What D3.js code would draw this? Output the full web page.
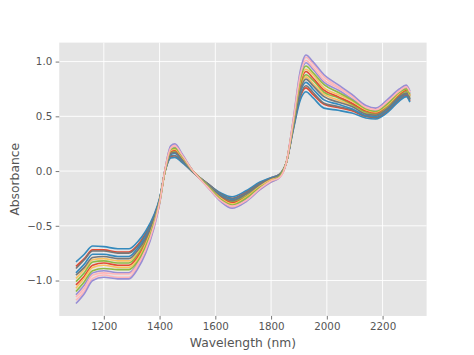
<!DOCTYPE html>
<html><head><meta charset="utf-8">
<script src="https://cdn.jsdelivr.net/npm/d3@7"></script>
<style>body{margin:0;background:#fff}svg{display:block}</style></head>
<body>
<script>
// Wavelength knots (nm)
const wavelengths=[1100,1130,1160,1200,1250,1290,1320,1350,1380,1400,1420,1440,1455,1480,1520,1570,1620,1660,1710,1760,1800,1830,1855,1880,1905,1925,1950,1990,2040,2090,2140,2175,2220,2260,2285,2298];
// Absorbance spectra
const s01=[-0.83,-0.76,-0.685,-0.69,-0.71,-0.71,-0.65,-0.55,-0.40,-0.25,0.00,0.12,0.125,0.08,-0.01,-0.11,-0.20,-0.235,-0.18,-0.10,-0.06,-0.03,0.08,0.38,0.65,0.725,0.67,0.575,0.555,0.53,0.485,0.475,0.54,0.64,0.68,0.63];
const s02=[-0.87,-0.80,-0.72,-0.72,-0.74,-0.74,-0.68,-0.57,-0.41,-0.26,0.00,0.13,0.14,0.09,-0.01,-0.11,-0.21,-0.25,-0.19,-0.11,-0.06,-0.03,0.08,0.39,0.68,0.76,0.70,0.61,0.58,0.55,0.50,0.485,0.55,0.65,0.69,0.64];
const s03=[-0.89,-0.81,-0.73,-0.73,-0.75,-0.75,-0.69,-0.58,-0.42,-0.26,0.00,0.14,0.14,0.09,-0.01,-0.11,-0.21,-0.25,-0.20,-0.11,-0.07,-0.03,0.08,0.40,0.69,0.78,0.72,0.62,0.59,0.56,0.50,0.49,0.56,0.66,0.70,0.65];
const s04=[-0.93,-0.85,-0.76,-0.76,-0.78,-0.78,-0.71,-0.60,-0.43,-0.26,0.01,0.15,0.16,0.10,-0.01,-0.12,-0.22,-0.26,-0.21,-0.12,-0.07,-0.04,0.08,0.41,0.72,0.81,0.75,0.65,0.61,0.57,0.51,0.50,0.57,0.67,0.71,0.66];
const s05=[-0.95,-0.88,-0.79,-0.78,-0.80,-0.80,-0.73,-0.62,-0.44,-0.27,0.01,0.16,0.17,0.11,-0.01,-0.12,-0.23,-0.27,-0.21,-0.12,-0.07,-0.04,0.08,0.41,0.74,0.84,0.78,0.68,0.63,0.59,0.52,0.51,0.58,0.68,0.71,0.66];
const s06=[-0.98,-0.90,-0.81,-0.80,-0.82,-0.82,-0.75,-0.63,-0.45,-0.27,0.01,0.16,0.18,0.11,-0.01,-0.12,-0.23,-0.28,-0.22,-0.13,-0.08,-0.04,0.08,0.42,0.76,0.86,0.80,0.70,0.65,0.60,0.53,0.515,0.59,0.68,0.72,0.67];
const s07=[-1.01,-0.93,-0.83,-0.82,-0.84,-0.84,-0.77,-0.64,-0.46,-0.27,0.01,0.17,0.18,0.12,-0.01,-0.12,-0.24,-0.28,-0.23,-0.13,-0.08,-0.04,0.08,0.43,0.78,0.88,0.83,0.72,0.67,0.61,0.54,0.52,0.60,0.69,0.73,0.68];
const s08=[-1.04,-0.96,-0.86,-0.84,-0.86,-0.86,-0.79,-0.66,-0.47,-0.28,0.01,0.18,0.19,0.12,0.00,-0.13,-0.24,-0.29,-0.24,-0.14,-0.08,-0.05,0.08,0.44,0.80,0.91,0.85,0.74,0.68,0.62,0.55,0.53,0.61,0.70,0.74,0.69];
const s09=[-1.07,-0.98,-0.88,-0.86,-0.88,-0.88,-0.81,-0.67,-0.47,-0.28,0.01,0.19,0.20,0.13,0.00,-0.13,-0.25,-0.30,-0.24,-0.14,-0.08,-0.05,0.08,0.44,0.82,0.93,0.88,0.76,0.70,0.64,0.56,0.54,0.61,0.71,0.75,0.69];
const s10=[-1.10,-1.01,-0.91,-0.89,-0.90,-0.90,-0.83,-0.69,-0.48,-0.29,0.01,0.20,0.21,0.14,0.00,-0.13,-0.26,-0.31,-0.25,-0.15,-0.09,-0.05,0.08,0.45,0.84,0.96,0.90,0.79,0.72,0.65,0.57,0.545,0.62,0.72,0.75,0.70];
const s11=[-1.13,-1.04,-0.93,-0.91,-0.93,-0.93,-0.85,-0.71,-0.49,-0.29,0.02,0.21,0.22,0.14,0.00,-0.13,-0.26,-0.32,-0.26,-0.16,-0.09,-0.05,0.08,0.46,0.86,0.99,0.93,0.81,0.74,0.66,0.58,0.55,0.63,0.73,0.76,0.71];
const s12=[-1.15,-1.07,-0.95,-0.93,-0.94,-0.94,-0.86,-0.72,-0.50,-0.29,0.02,0.21,0.23,0.15,0.00,-0.14,-0.27,-0.32,-0.27,-0.16,-0.09,-0.06,0.08,0.47,0.88,1.01,0.95,0.83,0.76,0.68,0.58,0.56,0.64,0.73,0.77,0.72];
const s13=[-1.18,-1.10,-0.98,-0.95,-0.97,-0.97,-0.88,-0.74,-0.51,-0.30,0.02,0.22,0.24,0.15,0.00,-0.14,-0.27,-0.33,-0.27,-0.17,-0.10,-0.06,0.08,0.47,0.90,1.04,0.98,0.86,0.77,0.69,0.59,0.57,0.65,0.74,0.78,0.72];
const s14=[-1.21,-1.12,-1.00,-0.97,-0.985,-0.985,-0.90,-0.75,-0.52,-0.30,0.02,0.23,0.25,0.16,0.00,-0.14,-0.28,-0.34,-0.28,-0.17,-0.10,-0.06,0.08,0.48,0.92,1.06,1.00,0.88,0.79,0.70,0.60,0.575,0.66,0.75,0.785,0.73];
// drawing order (colour cycles through palette in this order)
const spectra=[s02,s01,s11,s03,s06,s07,s13,s08,s04,s14,s05,s09,s10,s12];
const palette=["#E24A33","#348ABD","#988ED5","#777777","#FBC15E","#8EBA42","#FFB5B8"];
const xTicks=[1200,1400,1600,1800,2000,2200];
const yTicks=[-1.0,-0.5,0.0,0.5,1.0];

const W=474,H=355;
const m={l:59.25,r:474*0.9,t:355*0.12,b:355*0.89};
const svg=d3.select("body").append("svg").attr("width",W).attr("height",H);
const x=d3.scaleLinear().domain([1040.1,2357.9]).range([m.l,m.r]);
const y=d3.scaleLinear().domain([-1.3235,1.1735]).range([m.b,m.t]);

svg.append("rect").attr("x",m.l).attr("y",m.t).attr("width",m.r-m.l).attr("height",m.b-m.t).attr("fill","#E5E5E5");
const g=svg.append("g");
g.selectAll("line.gx").data(xTicks).join("line").attr("x1",d=>x(d)).attr("x2",d=>x(d)).attr("y1",m.t).attr("y2",m.b).attr("stroke","#fff").attr("stroke-width",0.9);
g.selectAll("line.gy").data(yTicks).join("line").attr("y1",d=>y(d)).attr("y2",d=>y(d)).attr("x1",m.l).attr("x2",m.r).attr("stroke","#fff").attr("stroke-width",0.9);

svg.append("clipPath").attr("id","c").append("rect").attr("x",m.l).attr("y",m.t).attr("width",m.r-m.l).attr("height",m.b-m.t);
const line=d3.line().x((d,i)=>x(wavelengths[i])).y(d=>y(d)).curve(d3.curveMonotoneX);
svg.append("g").attr("clip-path","url(#c)").selectAll("path").data(spectra).join("path")
  .attr("d",line).attr("fill","none").attr("stroke",(d,i)=>palette[i%palette.length]).attr("stroke-width",1.6);

const fmt=d3.format(".1f");
const xa=svg.append("g").attr("transform",`translate(0,${m.b})`).call(d3.axisBottom(x).tickValues(xTicks).tickFormat(d3.format("d")).tickSize(3.6).tickPadding(3.4));
const ya=svg.append("g").attr("transform",`translate(${m.l},0)`).call(d3.axisLeft(y).tickValues(yTicks).tickFormat(fmt).tickSize(3.6).tickPadding(3.4));
[xa,ya].forEach(a=>{a.select(".domain").remove();a.selectAll("line").attr("stroke","#555555").attr("stroke-width",0.8);
 a.selectAll("text").attr("fill","#555555").attr("font-family","DejaVu Sans").attr("font-size","10.3px");});
svg.append("text").attr("x",(m.l+m.r)/2).attr("y",347).attr("text-anchor","middle").attr("fill","#555555").attr("font-family","DejaVu Sans").attr("font-size","12.3px").text("Wavelength (nm)");
svg.append("text").attr("transform",`translate(19,${(m.t+m.b)/2}) rotate(-90)`).attr("text-anchor","middle").attr("fill","#555555").attr("font-family","DejaVu Sans").attr("font-size","12.3px").text("Absorbance");
</script>
</body></html>
